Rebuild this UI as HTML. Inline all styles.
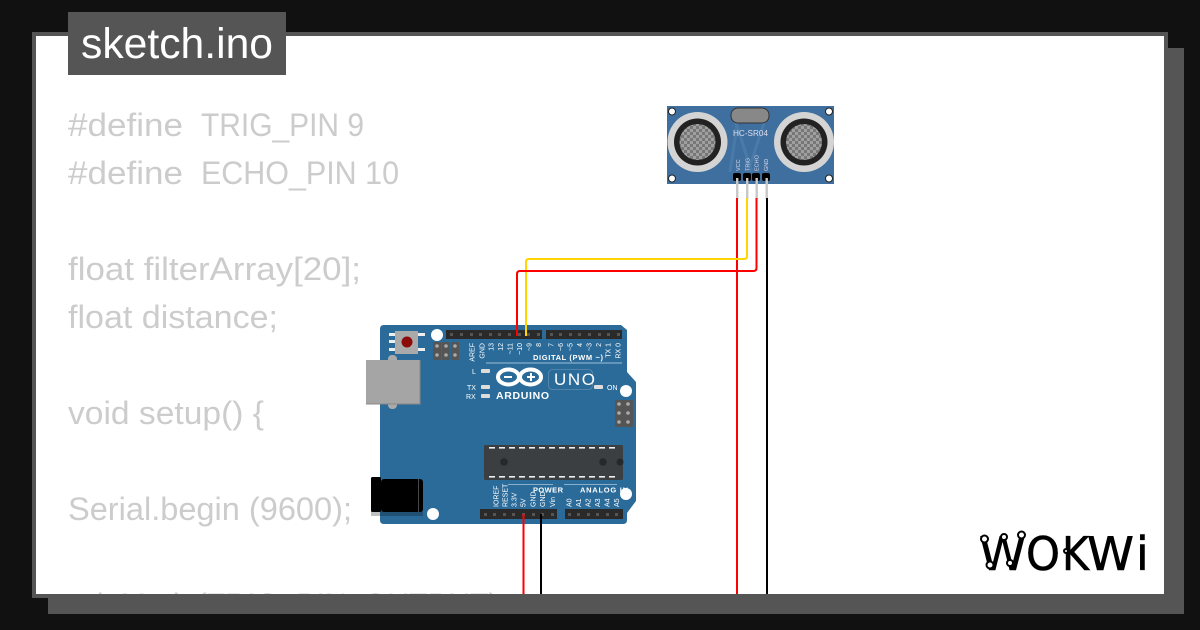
<!DOCTYPE html>
<html><head><meta charset="utf-8"><style>
html,body{margin:0;padding:0;background:#111;width:1200px;height:630px;overflow:hidden}
svg{display:block}
text{font-family:"Liberation Sans",sans-serif}
.code{font-size:32px;fill:#ccc;white-space:pre}
.p{font-size:7px;fill:#fff;text-anchor:start}
.e{font-size:7px;fill:#fff;text-anchor:end}
.b{font-size:7.5px;fill:#fff;font-weight:bold}
.s{font-size:5.5px;fill:#dde}
.w{font-family:"DejaVu Sans",sans-serif;font-size:46px;fill:#000;stroke:#000;stroke-width:0.6px}
</style></head><body>
<svg width="1200" height="630" viewBox="0 0 1200 630" xmlns="http://www.w3.org/2000/svg">
<defs>
<pattern id="chk" width="6" height="6" patternUnits="userSpaceOnUse"><rect width="6" height="6" fill="#a0a0a0"/><rect width="3" height="3" fill="#777"/><rect x="3" y="3" width="3" height="3" fill="#777"/></pattern>
<clipPath id="card"><rect x="36" y="36" width="1128" height="558"/></clipPath>
</defs>
<rect width="1200" height="630" fill="#111"/>
<rect x="48" y="48" width="1136" height="566" fill="#555"/>
<rect x="32" y="32" width="1136" height="566" fill="#555"/>
<rect x="36" y="36" width="1128" height="558" fill="#fff"/>
<rect x="68" y="12" width="218" height="63" fill="#555"/>
<text x="81" y="58" font-size="43" fill="#fff" textLength="192" lengthAdjust="spacingAndGlyphs">sketch.ino</text>
<g clip-path="url(#card)">
<text class="code" x="68" y="136" textLength="115" lengthAdjust="spacingAndGlyphs">#define</text>
<text class="code" x="201" y="136" textLength="163" lengthAdjust="spacingAndGlyphs">TRIG_PIN 9</text>
<text class="code" x="68" y="184" textLength="115" lengthAdjust="spacingAndGlyphs">#define</text>
<text class="code" x="201" y="184" textLength="198" lengthAdjust="spacingAndGlyphs">ECHO_PIN 10</text>
<text class="code" x="68" y="280" textLength="293" lengthAdjust="spacingAndGlyphs">float filterArray[20];</text>
<text class="code" x="68" y="328" textLength="210" lengthAdjust="spacingAndGlyphs">float distance;</text>
<text class="code" x="68" y="424" textLength="196" lengthAdjust="spacingAndGlyphs">void setup() {</text>
<text class="code" x="68" y="520" textLength="284" lengthAdjust="spacingAndGlyphs">Serial.begin (9600);</text>
<text class="code" x="80" y="616" textLength="427" lengthAdjust="spacingAndGlyphs">pinMode(TRIG_PIN, OUTPUT);</text>
</g>

<!-- Arduino board -->
<path d="M384 325H621L627 330V372L636 382V501L627 513V520Q627 524 623 524H384Q380 524 380 520V329Q380 325 384 325Z" fill="#2b6b9a"/>
<!-- USB -->
<rect x="388" y="355" width="9" height="54" rx="4" fill="#aaa"/>
<rect x="366" y="360" width="54" height="44" fill="#a5a5a5"/>
<path d="M366 404H420V360" fill="none" stroke="#888" stroke-width="1"/>
<!-- reset -->
<g fill="#eee"><rect x="389" y="333" width="7" height="3"/><rect x="389" y="340" width="7" height="3"/><rect x="389" y="348" width="7" height="3"/><rect x="418" y="333" width="7" height="3"/><rect x="418" y="348" width="7" height="3"/></g>
<rect x="395" y="331" width="23" height="23" fill="#aaa"/>
<circle cx="407" cy="342" r="5.5" fill="#8c0a0a"/>
<g fill="#fff"><circle cx="437" cy="335" r="6"/><circle cx="626" cy="391" r="6"/><circle cx="626" cy="494" r="6"/><circle cx="433" cy="514" r="6"/></g>
<!-- ICSP -->
<g fill="#555"><rect x="433" y="342" width="8" height="18" rx="1"/><rect x="442" y="342" width="8" height="18" rx="1"/><rect x="451" y="342" width="8" height="18" rx="1"/><rect x="615" y="400" width="18" height="27" rx="1"/></g>
<g fill="#aaa"><circle cx="437" cy="346" r="1.8"/><circle cx="437" cy="355" r="1.8"/><circle cx="446" cy="346" r="1.8"/><circle cx="446" cy="355" r="1.8"/><circle cx="455" cy="346" r="1.8"/><circle cx="455" cy="355" r="1.8"/>
<circle cx="619" cy="404" r="1.8"/><circle cx="628" cy="404" r="1.8"/><circle cx="619" cy="413" r="1.8"/><circle cx="628" cy="413" r="1.8"/><circle cx="619" cy="422" r="1.8"/><circle cx="628" cy="422" r="1.8"/></g>
<!-- headers -->
<g fill="#2a2a2a"><rect x="446" y="330" width="96" height="9"/><rect x="546" y="330" width="76" height="9"/><rect x="480" y="509" width="77" height="10"/><rect x="565" y="509" width="58" height="10"/></g>
<g fill="#555">
<rect x="450" y="333" width="3" height="3"/><rect x="460" y="333" width="3" height="3"/><rect x="470" y="333" width="3" height="3"/><rect x="479" y="333" width="3" height="3"/><rect x="489" y="333" width="3" height="3"/><rect x="498" y="333" width="3" height="3"/><rect x="508" y="333" width="3" height="3"/><rect x="518" y="333" width="3" height="3"/><rect x="527" y="333" width="3" height="3"/><rect x="537" y="333" width="3" height="3"/>
<rect x="550" y="333" width="3" height="3"/><rect x="559" y="333" width="3" height="3"/><rect x="569" y="333" width="3" height="3"/><rect x="578" y="333" width="3" height="3"/><rect x="588" y="333" width="3" height="3"/><rect x="598" y="333" width="3" height="3"/><rect x="607" y="333" width="3" height="3"/><rect x="617" y="333" width="3" height="3"/>
<rect x="484" y="513" width="3" height="3"/><rect x="493" y="513" width="3" height="3"/><rect x="503" y="513" width="3" height="3"/><rect x="512" y="513" width="3" height="3"/><rect x="522" y="513" width="3" height="3"/><rect x="532" y="513" width="3" height="3"/><rect x="541" y="513" width="3" height="3"/><rect x="551" y="513" width="3" height="3"/>
<rect x="568" y="513" width="3" height="3"/><rect x="577" y="513" width="3" height="3"/><rect x="587" y="513" width="3" height="3"/><rect x="596" y="513" width="3" height="3"/><rect x="606" y="513" width="3" height="3"/><rect x="615" y="513" width="3" height="3"/>
</g>
<!-- top pin labels: reading upward, ends aligned at y=343 -->
<text class="e" transform="translate(474.5 343) rotate(-90)">AREF</text>
<text class="e" transform="translate(484.5 343) rotate(-90)">GND</text>
<text class="e" transform="translate(493.5 343) rotate(-90)">13</text>
<text class="e" transform="translate(503 343) rotate(-90)">12</text>
<text class="e" transform="translate(512.5 343) rotate(-90)">~11</text>
<text class="e" transform="translate(522 343) rotate(-90)">~10</text>
<text class="e" transform="translate(531.5 343) rotate(-90)">~9</text>
<text class="e" transform="translate(541 343) rotate(-90)">8</text>
<text class="e" transform="translate(553.5 343) rotate(-90)">7</text>
<text class="e" transform="translate(563 343) rotate(-90)">~6</text>
<text class="e" transform="translate(572.5 343) rotate(-90)">~5</text>
<text class="e" transform="translate(582 343) rotate(-90)">4</text>
<text class="e" transform="translate(591.5 343) rotate(-90)">~3</text>
<text class="e" transform="translate(601 343) rotate(-90)">2</text>
<text class="e" transform="translate(610.5 343) rotate(-90)">TX 1</text>
<text class="e" transform="translate(620.5 343) rotate(-90)">RX 0</text>
<text class="b" x="533" y="360" textLength="70">DIGITAL (PWM ~)</text>
<rect x="486" y="362.5" width="136" height="1" fill="#9fc0d8"/>
<!-- LEDs -->
<g fill="#ddd"><rect x="481" y="369" width="9" height="4" rx="1"/><rect x="481" y="385" width="9" height="4" rx="1"/><rect x="481" y="394" width="9" height="4" rx="1"/><rect x="594" y="385" width="9" height="4" rx="1"/></g>
<text class="p" x="472" y="374">L</text>
<text class="p" x="467" y="390">TX</text>
<text class="p" x="466" y="399">RX</text>
<text class="p" x="607" y="390">ON</text>
<!-- logo -->
<g fill="none" stroke="#fff" stroke-width="4"><ellipse cx="508.5" cy="377" rx="10.5" ry="7.5"/><ellipse cx="530.5" cy="377" rx="10.5" ry="7.5"/></g>
<rect x="504" y="376" width="8" height="2" fill="#fff"/>
<rect x="527" y="376" width="8" height="2" fill="#fff"/><rect x="530" y="373" width="2" height="8" fill="#fff"/>
<text x="496" y="399" font-size="10.5" font-weight="bold" fill="#fff" textLength="53" lengthAdjust="spacing">ARDUINO</text>
<rect x="548.5" y="369.5" width="44" height="20" rx="4" fill="none" stroke="#5d8cb0" stroke-width="0.8"/>
<text x="554" y="385" font-size="17" fill="#fff" textLength="41" lengthAdjust="spacing">UNO</text>
<!-- chip -->
<rect x="484" y="445" width="139" height="35" rx="1.5" fill="#3c3f42"/>
<g fill="#eee">
<rect x="489" y="447" width="6" height="1.6"/><rect x="499" y="447" width="6" height="1.6"/><rect x="509" y="447" width="6" height="1.6"/><rect x="519" y="447" width="6" height="1.6"/><rect x="529" y="447" width="6" height="1.6"/><rect x="539" y="447" width="6" height="1.6"/><rect x="549" y="447" width="6" height="1.6"/><rect x="559" y="447" width="6" height="1.6"/><rect x="569" y="447" width="6" height="1.6"/><rect x="579" y="447" width="6" height="1.6"/><rect x="589" y="447" width="6" height="1.6"/><rect x="599" y="447" width="6" height="1.6"/><rect x="609" y="447" width="6" height="1.6"/>
<rect x="489" y="476" width="6" height="1.6"/><rect x="499" y="476" width="6" height="1.6"/><rect x="509" y="476" width="6" height="1.6"/><rect x="519" y="476" width="6" height="1.6"/><rect x="529" y="476" width="6" height="1.6"/><rect x="539" y="476" width="6" height="1.6"/><rect x="549" y="476" width="6" height="1.6"/><rect x="559" y="476" width="6" height="1.6"/><rect x="569" y="476" width="6" height="1.6"/><rect x="579" y="476" width="6" height="1.6"/><rect x="589" y="476" width="6" height="1.6"/><rect x="599" y="476" width="6" height="1.6"/><rect x="609" y="476" width="6" height="1.6"/>
</g>
<g fill="#26282a"><circle cx="504" cy="462" r="3.8"/><circle cx="603" cy="462" r="3.8"/><circle cx="620" cy="462" r="3.5"/></g>
<!-- jack -->
<rect x="371" y="483" width="52" height="33" fill="#000" opacity="0.25"/>
<rect x="371" y="477" width="10" height="35" rx="1.5" fill="#000"/>
<rect x="381" y="479" width="42" height="33" rx="3" fill="#000"/>
<rect x="418" y="479" width="0.7" height="33" fill="#666"/>
<!-- bottom labels -->
<text class="p" transform="translate(498.5 507) rotate(-90)">IOREF</text>
<text class="p" transform="translate(507.5 507) rotate(-90)">RESET</text>
<text class="p" transform="translate(516.5 507) rotate(-90)">3.3V</text>
<text class="p" transform="translate(525.5 507) rotate(-90)">5V</text>
<text class="p" transform="translate(535.5 507) rotate(-90)">GND</text>
<text class="p" transform="translate(545 507) rotate(-90)">GND</text>
<text class="p" transform="translate(555 507) rotate(-90)">Vin</text>
<text class="p" transform="translate(571.5 507) rotate(-90)">A0</text>
<text class="p" transform="translate(581 507) rotate(-90)">A1</text>
<text class="p" transform="translate(590.5 507) rotate(-90)">A2</text>
<text class="p" transform="translate(600 507) rotate(-90)">A3</text>
<text class="p" transform="translate(609.5 507) rotate(-90)">A4</text>
<text class="p" transform="translate(619 507) rotate(-90)">A5</text>
<rect x="508" y="484" width="45" height="0.8" fill="#9fc0d8"/><rect x="564" y="484" width="53" height="0.8" fill="#9fc0d8"/>
<text class="b" x="533" y="492.5" textLength="30">POWER</text>
<text class="b" x="580" y="492.5" textLength="48">ANALOG IN</text>

<!-- HC-SR04 -->
<rect x="667" y="106" width="167" height="78" fill="#3f6f9e"/>
<path d="M735 120L752 172M765 120L748 172M738 118L730 172" stroke="#4a7aa8" stroke-width="3" fill="none"/>
<g fill="#fff" stroke="#222" stroke-width="1"><circle cx="672" cy="111.5" r="3.5"/><circle cx="829" cy="111.5" r="3.5"/><circle cx="672" cy="178.5" r="3.5"/><circle cx="829" cy="178.5" r="3.5"/></g>
<rect x="731" y="108" width="38" height="15" rx="7" fill="#888" stroke="#333" stroke-width="1"/>
<circle cx="697.5" cy="142" r="30" fill="#d4d4d4"/><circle cx="697.5" cy="142" r="23.5" fill="#222"/><circle cx="697.5" cy="142" r="18" fill="url(#chk)"/>
<circle cx="804" cy="142" r="30" fill="#d4d4d4"/><circle cx="804" cy="142" r="23.5" fill="#222"/><circle cx="804" cy="142" r="18" fill="url(#chk)"/>
<text x="733" y="136" font-size="8.2" fill="#dde" textLength="35">HC-SR04</text>
<text class="s" transform="translate(740 171) rotate(-90)">VCC</text>
<text class="s" transform="translate(749.5 171) rotate(-90)">TRIG</text>
<text class="s" transform="translate(758.5 171) rotate(-90)">ECHO</text>
<text class="s" transform="translate(768 171) rotate(-90)">GND</text>
<g fill="#000"><rect x="733" y="173" width="8" height="8" rx="2"/><rect x="743" y="173" width="8" height="8" rx="2"/><rect x="752" y="173" width="8" height="8" rx="2"/><rect x="762" y="173" width="8" height="8" rx="2"/></g>
<g fill="#c8c8c8"><rect x="736" y="178" width="2.4" height="21"/><rect x="746" y="178" width="2.4" height="21"/><rect x="755.5" y="178" width="2.4" height="21"/><rect x="765.5" y="178" width="2.4" height="21"/></g>

<!-- wires -->
<g fill="none" stroke-width="2">
<path d="M737 198V594" stroke="#f00"/>
<path d="M767 198V594" stroke="#000"/>
<path d="M747 198V256Q747 259 744 259H529Q526 259 526 262V336" stroke="#ffd400"/>
<path d="M756.5 198V268Q756.5 271 753.5 271H520Q517 271 517 274V336" stroke="#f00"/>
<path d="M523.5 514V594" stroke="#f00"/>
<path d="M541 514V594" stroke="#000"/>
</g>

<!-- Wokwi logo -->
<text class="w" x="979" y="570" textLength="47" lengthAdjust="spacingAndGlyphs">W</text>
<text class="w" x="1026" y="570" textLength="34" lengthAdjust="spacingAndGlyphs">O</text>
<text class="w" x="1062" y="570" textLength="27" lengthAdjust="spacingAndGlyphs">K</text>
<text class="w" x="1087" y="570" textLength="47" lengthAdjust="spacingAndGlyphs">W</text>
<text class="w" x="1136" y="570">i</text>
<g fill="#fff" stroke="#000" stroke-width="2"><circle cx="984.5" cy="539" r="3.5"/><circle cx="1004" cy="537" r="3"/><circle cx="1021.5" cy="535" r="3.5"/><circle cx="990" cy="565" r="3.5"/><circle cx="1010" cy="563" r="3"/><circle cx="1066" cy="551" r="2"/></g>
</svg>
</body></html>
